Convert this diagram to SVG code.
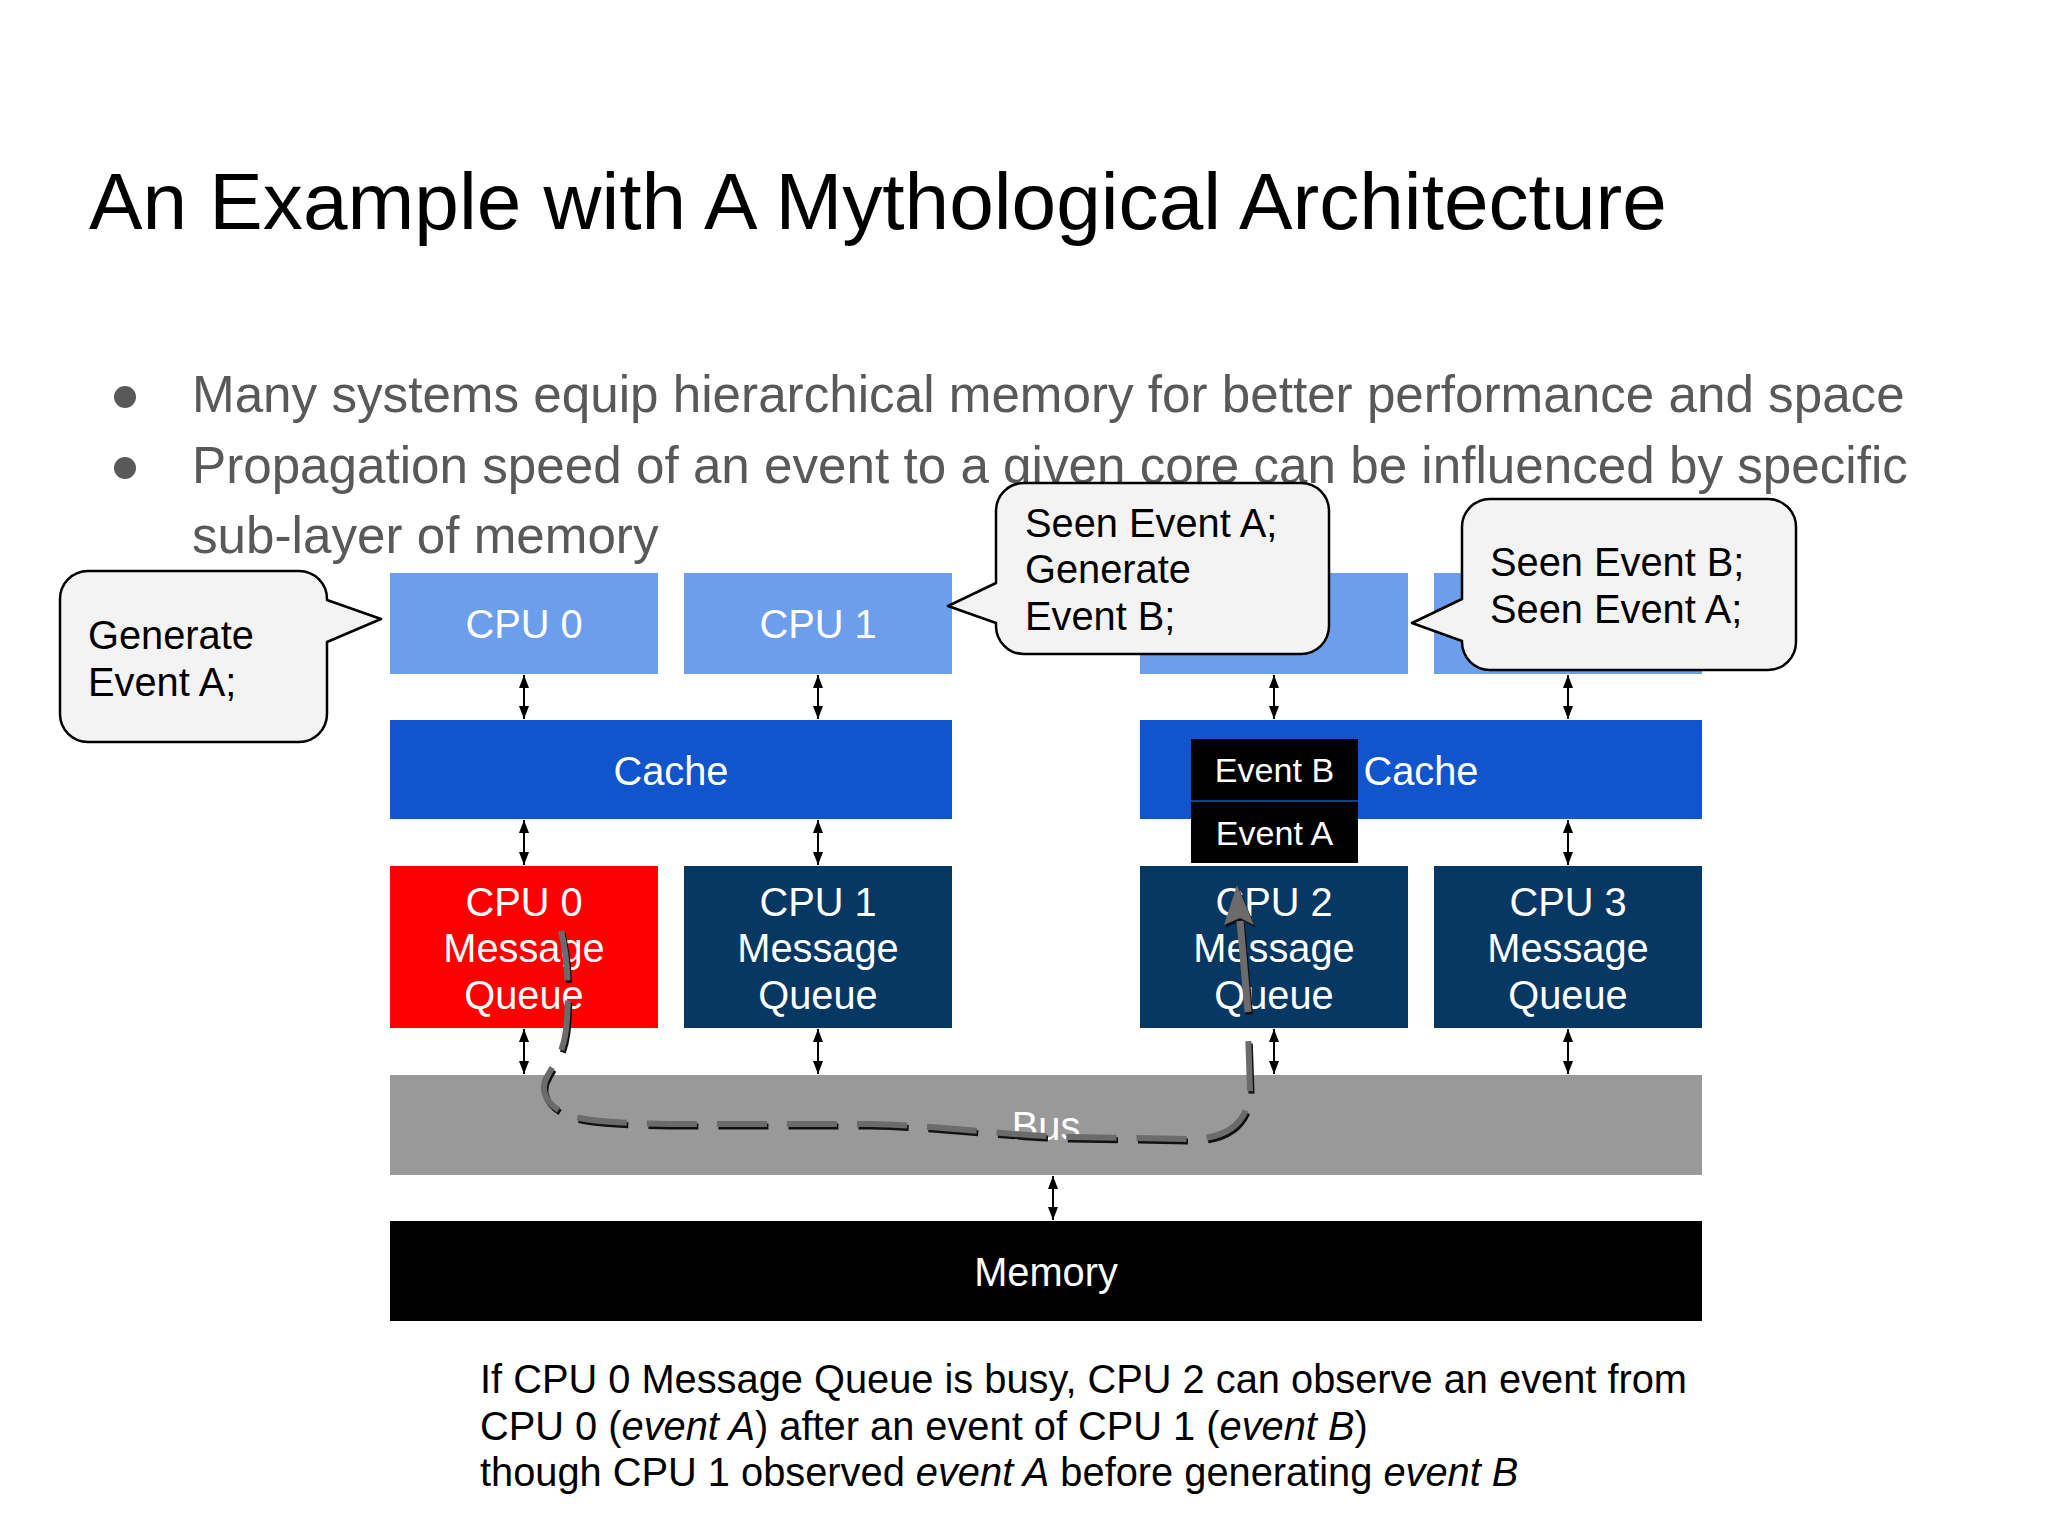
<svg xmlns="http://www.w3.org/2000/svg" width="2048" height="1536" viewBox="0 0 2048 1536">
<defs>
<style>
text{font-family:"Liberation Sans",Arial,sans-serif}
.title{font-size:80.2px;fill:#000}
.bul{font-size:51.2px;fill:#595959}
.bt{font-size:39.8px;fill:#fff;text-anchor:middle}
.ev{font-size:34.1px;fill:#fff;text-anchor:middle}
.cal{font-size:39.8px;fill:#000}
.note{font-size:39.8px;fill:#000}
.cpu{fill:#6d9eeb}
.cache{fill:#1155cc}
.mq{fill:#073763}
.bubble{fill:#f3f3f3;stroke:#000;stroke-width:2.5;stroke-linejoin:round}
.link{stroke:#000;stroke-width:2;fill:none;marker-start:url(#ah);marker-end:url(#ah)}
.path{fill:none;stroke:#6b6b6b;stroke-width:6;stroke-dasharray:50 20}
.pathsh{fill:none;stroke:#111;stroke-width:6;stroke-dasharray:50 20}
</style>
<marker id="ah" viewBox="0 0 13 10" refX="13" refY="5" markerWidth="13" markerHeight="10" orient="auto-start-reverse" markerUnits="userSpaceOnUse">
<path d="M0,0 L13,5 L0,10 z" fill="#000"/>
</marker>
</defs>
<rect width="2048" height="1536" fill="#fff"/>

<text class="title" x="89" y="229">An Example with A Mythological Architecture</text>
<g id="bullets">
<circle cx="125" cy="397" r="11" fill="#595959"/>
<circle cx="125" cy="468" r="11" fill="#595959"/>
<text class="bul" x="192" y="412">Many systems equip hierarchical memory for better performance and space</text>
<text class="bul" x="192" y="483">Propagation speed of an event to a given core can be influenced by specific</text>
<text class="bul" x="192" y="553">sub-layer of memory</text>
</g>

<g id="cpu0"><rect class="cpu" x="390" y="573" width="268" height="101"/><text class="bt" x="524" y="638">CPU 0</text></g>
<g id="cpu1"><rect class="cpu" x="684" y="573" width="268" height="101"/><text class="bt" x="818" y="638">CPU 1</text></g>
<g id="cpu2"><rect class="cpu" x="1140" y="573" width="268" height="101"/></g>
<g id="cpu3"><rect class="cpu" x="1434" y="573" width="268" height="101"/></g>

<g id="cache-left"><rect class="cache" x="390" y="720" width="562" height="99"/><text class="bt" x="671" y="785">Cache</text></g>
<g id="cache-right"><rect class="cache" x="1140" y="720" width="562" height="99"/><text class="bt" x="1421" y="785">Cache</text></g>

<g id="mq0"><rect x="390" y="866" width="268" height="162" fill="#ff0000"/><text class="bt" x="524" y="915.5">CPU 0</text><text class="bt" x="524" y="962">Message</text><text class="bt" x="524" y="1008.5">Queue</text></g>
<g id="mq1"><rect class="mq" x="684" y="866" width="268" height="162"/><text class="bt" x="818" y="915.5">CPU 1</text><text class="bt" x="818" y="962">Message</text><text class="bt" x="818" y="1008.5">Queue</text></g>
<g id="mq2"><rect class="mq" x="1140" y="866" width="268" height="162"/><text class="bt" x="1274" y="915.5">CPU 2</text><text class="bt" x="1274" y="962">Message</text><text class="bt" x="1274" y="1008.5">Queue</text></g>
<g id="mq3"><rect class="mq" x="1434" y="866" width="268" height="162"/><text class="bt" x="1568" y="915.5">CPU 3</text><text class="bt" x="1568" y="962">Message</text><text class="bt" x="1568" y="1008.5">Queue</text></g>

<g id="bus"><rect x="390" y="1075" width="1312" height="100" fill="#999999"/><text class="bt" x="1046" y="1140">Bus</text></g>
<g id="memory"><rect x="390" y="1221" width="1312" height="100" fill="#000"/><text class="bt" x="1046" y="1286">Memory</text></g>

<g id="connectors">
<line class="link" x1="524" y1="675" x2="524" y2="719"/>
<line class="link" x1="818" y1="675" x2="818" y2="719"/>
<line class="link" x1="1274" y1="675" x2="1274" y2="719"/>
<line class="link" x1="1568" y1="675" x2="1568" y2="719"/>
<line class="link" x1="524" y1="820" x2="524" y2="865"/>
<line class="link" x1="818" y1="820" x2="818" y2="865"/>
<line class="link" x1="1568" y1="820" x2="1568" y2="865"/>
<line class="link" x1="524" y1="1029" x2="524" y2="1074"/>
<line class="link" x1="818" y1="1029" x2="818" y2="1074"/>
<line class="link" x1="1274" y1="1029" x2="1274" y2="1074"/>
<line class="link" x1="1568" y1="1029" x2="1568" y2="1074"/>
<line class="link" x1="1053" y1="1176" x2="1053" y2="1220"/>
</g>

<g id="event-b"><rect x="1191" y="739" width="167" height="62" fill="#000"/><text class="ev" x="1274.5" y="782">Event B</text></g>
<g id="event-a"><rect x="1191" y="801" width="167" height="62" fill="#000"/><line x1="1191" y1="801" x2="1358" y2="801" stroke="#1155cc" stroke-width="1.5"/><text class="ev" x="1274.5" y="844.5">Event A</text></g>

<g id="callout-cpu0">
<path class="bubble" d="M88 571 H299 A28 28 0 0 1 327 599 L327 600 L381 619 L327 642 V714 A28 28 0 0 1 299 742 H88 A28 28 0 0 1 60 714 V599 A28 28 0 0 1 88 571 Z"/>
<text class="cal" x="88" y="649">Generate</text>
<text class="cal" x="88" y="696">Event A;</text>
</g>
<g id="callout-cpu1">
<path class="bubble" d="M1024 483 H1301 A28 28 0 0 1 1329 511 V626 A28 28 0 0 1 1301 654 H1024 A28 28 0 0 1 996 626 V623 L948 606 L996 583 V511 A28 28 0 0 1 1024 483 Z"/>
<text class="cal" x="1025" y="537">Seen Event A;</text>
<text class="cal" x="1025" y="583">Generate</text>
<text class="cal" x="1025" y="630">Event B;</text>
</g>
<g id="callout-cpu2">
<path class="bubble" d="M1490 499 H1768 A28 28 0 0 1 1796 527 V642 A28 28 0 0 1 1768 670 H1490 A28 28 0 0 1 1462 642 V641 L1412 623 L1462 599 V527 A28 28 0 0 1 1490 499 Z"/>
<text class="cal" x="1490" y="576">Seen Event B;</text>
<text class="cal" x="1490" y="623">Seen Event A;</text>
</g>

<g id="propagation">
<g transform="translate(1.5,2.5)">
<path class="pathsh" d="M561 931 C567 955 570 990 566 1030 C563 1055 553 1065 548 1075 C538 1090 545 1112 585 1119 C610 1123 650 1124 700 1124 L870 1124 C950 1126 1000 1135 1070 1137 L1190 1139 C1230 1139 1249 1120 1250 1090 L1248 1031"/>
<line x1="1248" y1="1012" x2="1240" y2="921" stroke="#111" stroke-width="7"/>
<polygon points="1237,885 1224,925 1240,918 1254,925" fill="#111"/>
</g>
<path class="path" d="M561 931 C567 955 570 990 566 1030 C563 1055 553 1065 548 1075 C538 1090 545 1112 585 1119 C610 1123 650 1124 700 1124 L870 1124 C950 1126 1000 1135 1070 1137 L1190 1139 C1230 1139 1249 1120 1250 1090 L1248 1031"/>
<line x1="1248" y1="1012" x2="1240" y2="921" stroke="#6b6b6b" stroke-width="7"/>
<polygon points="1237,885 1224,925 1240,918 1254,925" fill="#6b6b6b"/>
</g>

<g id="note">
<text class="note" x="480" y="1393">If CPU 0 Message Queue is busy, CPU 2 can observe an event from</text>
<text class="note" x="480" y="1439.5">CPU 0 (<tspan font-style="italic">event A</tspan>) after an event of CPU 1 (<tspan font-style="italic">event B</tspan>)</text>
<text class="note" x="480" y="1486">though CPU 1 observed <tspan font-style="italic">event A</tspan> before generating <tspan font-style="italic">event B</tspan></text>
</g>
</svg>
